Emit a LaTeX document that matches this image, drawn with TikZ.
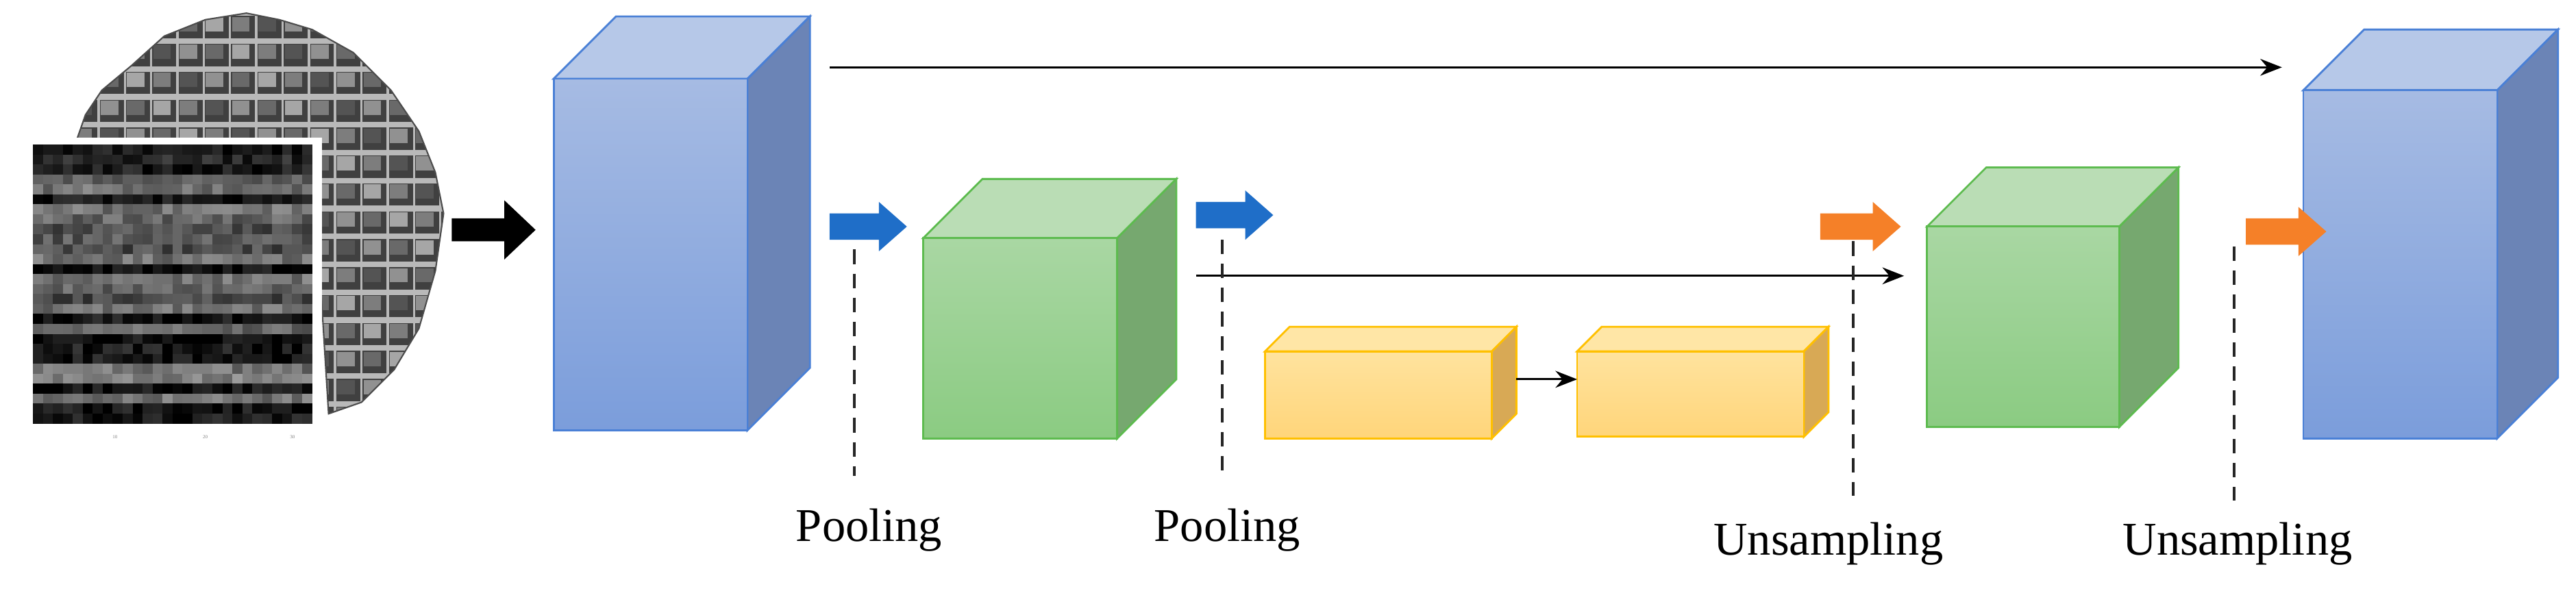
\documentclass[tikz,border=0pt]{standalone}
\usepackage{fontspec}
\setmainfont{Liberation Serif}
\usetikzlibrary{arrows.meta}
\begin{document}
\begin{tikzpicture}[x=0.02398cm,y=-0.02398cm,
  lbl/.style={font=\fontsize{19.5}{22}\selectfont,inner sep=0pt},
  dline/.style={line width=1.1pt,black!85,dash pattern=on 6pt off 4pt},
  conn/.style={-{Stealth[length=9pt,width=7pt]},line width=0.9pt}]
\definecolor{bF1}{HTML}{A6BBE3}\definecolor{bF2}{HTML}{7B9DDB}
\definecolor{bT}{HTML}{B6C8E8}\definecolor{bS}{HTML}{6B84B6}\definecolor{bL}{HTML}{4A80D6}
\definecolor{gF1}{HTML}{A9D7A3}\definecolor{gF2}{HTML}{8BCB82}
\definecolor{gT}{HTML}{BADDB5}\definecolor{gS}{HTML}{76A86F}\definecolor{gL}{HTML}{5DBB4F}
\definecolor{yF1}{HTML}{FFE39E}\definecolor{yF2}{HTML}{FFD57A}
\definecolor{yT}{HTML}{FFE6A6}\definecolor{yS}{HTML}{D8A955}\definecolor{yL}{HTML}{FFC000}
\definecolor{arB}{HTML}{1F6EC8}\definecolor{arO}{HTML}{F58028}
\useasboundingbox (0,0) rectangle (1568,361);
\fill[white] (0,0) rectangle (1568,361);
\newcommand\mycube[6]{%
  \fill[#6T,draw=#6L,line width=0.8pt] (#1,#2)--(#1+#5,#2-#5)--(#3+#5,#2-#5)--(#3,#2)--cycle;
  \fill[#6S,draw=#6L,line width=0.8pt] (#3,#2)--(#3+#5,#2-#5)--(#3+#5,#4-#5)--(#3,#4)--cycle;
  \shade[top color=#6F1,bottom color=#6F2] (#1,#2) rectangle (#3,#4);
  \draw[#6L,line width=0.8pt] (#1,#2) rectangle (#3,#4);}
\newcommand\fatarrow[5]{%
  \fill[#4] (#1,#3-8)--(#5,#3-8)--(#5,#3-15)--(#2,#3)--(#5,#3+15)--(#5,#3+8)--(#1,#3+8)--cycle;}
\def\blob{(45,90)--(52,70)--(62,55)--(80,40)--(100,22)--(125,12)--(150,8)--(170,12)--(190,18)--(215,32)--(238,55)--(255,80)--(265,105)--(270,130)--(265,165)--(255,200)--(240,225)--(220,245)--(200,252)--(190,90)--cycle}
\fill[gray!55] \blob;
\begin{scope}
\clip \blob;
\foreach \i in {0,...,14}{\foreach \j in {0,...,14}{
  \pgfmathtruncatemacro\sh{mod(\i*7+\j*13,5)*8+35}
  \fill[black!75] (45+\i*16,10+\j*17) rectangle ++(14,13);
  \fill[black!\sh!white] (45+\i*16,10+\j*17) rectangle ++(11,9);
  \draw[black!75,line width=0.4pt] (45+\i*16,10+\j*17) rectangle ++(14,13);}}
\end{scope}
\draw[black!70,line width=0.6pt] \blob;
\fill[white] (16,84) rectangle (196,262);
\pgfmathsetseed{7}
\foreach \r/\b in {0/8,1/15,2/10,3/40,4/45,5/8,6/45,7/40,8/30,9/35,10/30,11/45,12/5,13/45,14/40,15/28,16/45,17/8,18/40,19/6,20/10,21/10,22/45,23/50,24/6,25/45,26/8,27/10}{
  \foreach \c in {0,...,27}{
    \pgfmathtruncatemacro\v{max(0,min(90,\b+rand*12))}
    \fill[white!\v!black] (20+\c*6.07,88+\r*6.07) rectangle ++(6.1,6.1);}}
\node[inner sep=0pt,font=\fontsize{2}{2}\selectfont,gray] (t1) at (70,266) {10};
\node[inner sep=0pt,font=\fontsize{2}{2}\selectfont,gray] (t2) at (125,266) {20};
\node[inner sep=0pt,font=\fontsize{2}{2}\selectfont,gray] (t3) at (178,266) {30};
\fill[black] (275,133)--(307,133)--(307,122)--(326,140)--(307,158)--(307,147)--(275,147)--cycle;
\mycube{337}{48}{455}{262}{38}{b}
\mycube{562}{145}{680}{267}{36}{g}
\mycube{770}{214}{908}{267}{15}{y}
\mycube{960}{214}{1098}{266}{15}{y}
\mycube{1173}{138}{1290}{260}{36}{g}
\mycube{1402}{55}{1520}{267}{37}{b}
\fatarrow{505}{552}{138}{arB}{535}
\fatarrow{728}{775}{131}{arB}{758}
\fatarrow{1108}{1157}{138}{arO}{1140}
\fatarrow{1367}{1416}{141}{arO}{1399}
\coordinate (s1) at (505,41); \coordinate (e1) at (1389,41);
\coordinate (s2) at (728,168); \coordinate (e2) at (1159,168);
\coordinate (s3) at (923,231); \coordinate (e3) at (960,231);
\draw[conn] (s1)--(e1);
\draw[conn] (s2)--(e2);
\draw[conn] (s3)--(e3);
\node[lbl] (p1) at (529,323) {Pooling};
\node[lbl] (p2) at (747,323) {Pooling};
\node[lbl] (u1) at (1113,331) {Unsampling};
\node[lbl] (u2) at (1362,331) {Unsampling};
\coordinate (d1) at (520,152); \coordinate (d2) at (744,146);
\coordinate (d3) at (1128,147); \coordinate (d4) at (1360,150);
\coordinate (f1) at (520,290); \coordinate (f2) at (744,290);
\coordinate (f3) at (1128,302); \coordinate (f4) at (1360,305);
\draw[dline] (d1)--(f1);
\draw[dline] (d2)--(f2);
\draw[dline] (d3)--(f3);
\draw[dline] (d4)--(f4);
\end{tikzpicture}
\end{document}
